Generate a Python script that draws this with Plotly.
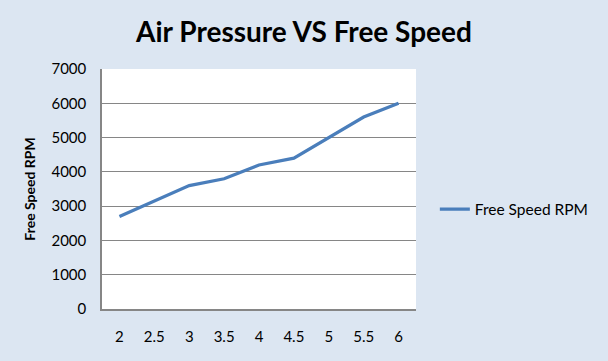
import plotly.graph_objects as go

pressure = ["2", "2.5", "3", "3.5", "4", "4.5", "5", "5.5", "6"]
free_speed_rpm = [2700, 3150, 3600, 3800, 4200, 4400, 5000, 5600, 6000]
y_ticks = [0, 1000, 2000, 3000, 4000, 5000, 6000, 7000]

FONT = "Lato"

fig = go.Figure()
fig.add_trace(go.Scatter(
    x=pressure, y=free_speed_rpm, mode="lines", name="Free Speed RPM",
    line=dict(color="#4a7ebb", width=3.2),
))

fig.update_layout(
    width=608, height=361,
    paper_bgcolor="#dce6f2", plot_bgcolor="#ffffff",
    margin=dict(l=102, r=192, t=69, b=52),
    title=dict(text="<b>Air Pressure VS Free Speed</b>", x=0.5, xanchor="center",
               y=0.91, yanchor="middle",
               font=dict(family=FONT, size=28, color="#000000")),
    font=dict(family=FONT, size=15, color="#000000"),
    showlegend=True,
    legend=dict(x=1.06, xanchor="left", y=0.414, yanchor="middle",
                bgcolor="rgba(0,0,0,0)", font=dict(family=FONT, size=15.5),
                itemwidth=30),
)
fig.update_xaxes(
    type="category", range=[-0.5, 8.5],
    showline=True, linecolor="#868686", linewidth=1.5,
    showgrid=False, ticks="outside", ticklen=0, ticklabelstandoff=13,
    tickfont=dict(family=FONT, size=15),
)
fig.update_yaxes(
    range=[0, 7000], tickvals=y_ticks,
    showline=True, linecolor="#868686", linewidth=1.5,
    showgrid=True, gridcolor="#868686", gridwidth=1,
    zeroline=False, ticks="", ticklabelstandoff=11,
    tickfont=dict(family=FONT, size=15),
    title=dict(text="<b>Free Speed RPM</b>", font=dict(family=FONT, size=14), standoff=13),
)

fig.write_html("out.html", config={"displayModeBar": False},
               post_script="document.body.style.margin='0';")
